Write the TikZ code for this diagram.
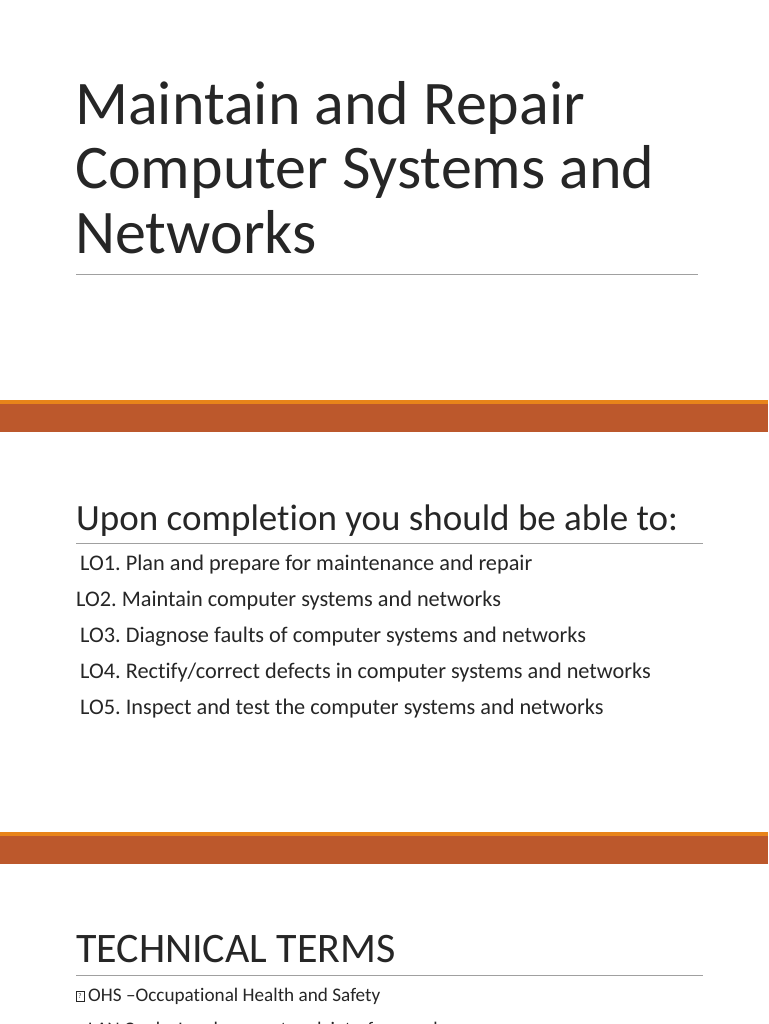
\documentclass[tikz,border=0pt]{standalone}
\usepackage{fontspec}
\setmainfont{Carlito}[Ligatures=NoCommon]
\frenchspacing
\definecolor{txt}{HTML}{262626}
\definecolor{bandA}{HTML}{E8841A}
\definecolor{bandB}{HTML}{BC582C}
\definecolor{rule}{HTML}{A0A0A0}
\begin{document}
\begin{tikzpicture}[x=1pt,y=-1pt,
  ttl/.style={anchor=base west,inner sep=0pt,text=txt,font=\fontsize{62}{63}\selectfont},
  lo/.style={anchor=base west,inner sep=0pt,text=txt,font=\fontsize{22.3}{24}\selectfont},
  head/.style={anchor=base west,inner sep=0pt,text=txt,font=\fontsize{37}{40}\selectfont},
  term/.style={anchor=base west,inner sep=0pt,text=txt,font=\fontsize{19.2}{20}\selectfont},
  qbox/.style={draw=txt,line width=0.5pt,inner sep=0.5pt,font=\fontsize{7}{8}\selectfont,text=txt,minimum width=8pt,minimum height=10pt}]
\useasboundingbox (0,0) rectangle (768,1024);
\fill[white] (0,0) rectangle (768,1024);
\node[ttl] (title1) at (75,125) {Maintain and Repair};
\node[ttl] (title2) at (75,189) {Computer Systems and};
\node[ttl] (title3) at (75,253) {Networks};
\draw[rule,line width=0.8pt] (76,274) -- (698,274);
\fill[bandA] (0,400) rectangle (768,404);
\fill[bandB] (0,404) rectangle (768,432);
\node[head] (upon) at (76,530) {Upon completion you should be able to:};
\draw[rule,line width=0.8pt] (76,543) -- (703,543);
\node[lo] (l1) at (80,570) {LO1. Plan and prepare for maintenance and repair};
\node[lo] (l2) at (76,606) {LO2. Maintain computer systems and networks};
\node[lo] (l3) at (80,642) {LO3. Diagnose faults of computer systems and networks};
\node[lo] (l4) at (80,678) {LO4. Rectify/correct defects in computer systems and networks};
\node[lo] (l5) at (80,714) {LO5. Inspect and test the computer systems and networks};
\fill[bandA] (0,832) rectangle (768,836);
\fill[bandB] (0,836) rectangle (768,864);
\node[head,font=\fontsize{42}{44}\selectfont] (tech) at (76,962) {TECHNICAL TERMS};
\draw[rule,line width=0.8pt] (76,975) -- (703,975);
\node[qbox] (q1) at (80,996) {?};
\node[term] (t1) at (88,1001) {OHS –Occupational Health and Safety};
\node[qbox] (q2) at (80,1030) {?};
\node[term] (t2) at (88,1035) {LAN Card – Local area network interface card};
\end{tikzpicture}
\end{document}
